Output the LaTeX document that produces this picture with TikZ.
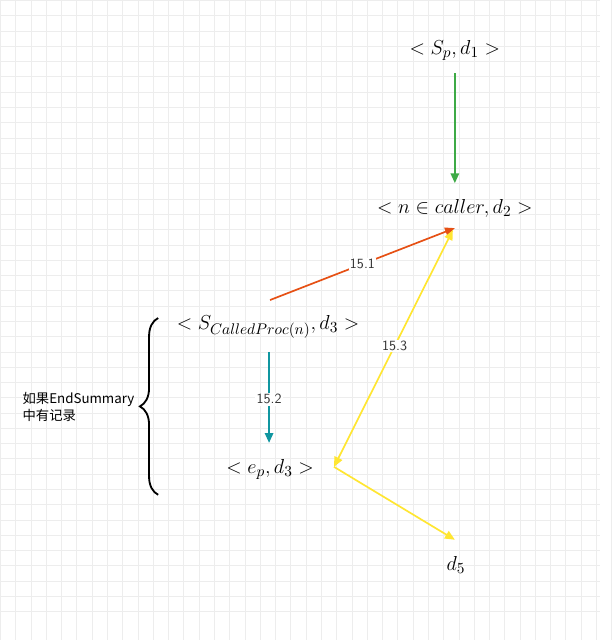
\documentclass[tikz,border=0pt]{standalone}
\usepackage{fontspec}
\newfontfamily\cjk{Noto Sans CJK SC}
\usetikzlibrary{arrows.meta,decorations.pathreplacing}
\begin{document}
\begin{tikzpicture}[x=0.025cm,y=-0.025cm,
  mt/.style={font=\fontsize{15}{17}\selectfont},
  lbl/.style={font=\sffamily\fontsize{10}{11}\selectfont,fill=white,text=black!80,inner sep=1pt},
  arr/.style={line width=1.2pt,-{Triangle[length=7pt,width=6pt]}}]
\fill[white] (0,0) rectangle (600,640);
\foreach \i in {0,...,40} {\draw[gray!14,line width=0.5pt] (\i*15.3,0) -- (\i*15.3,640);
  \draw[gray!14,line width=0.5pt] (0,\i*15.3) -- (600,\i*15.3);}
\useasboundingbox (0,0) rectangle (600,640);
\definecolor{gr}{RGB}{62,170,70}
\definecolor{og}{RGB}{230,80,20}
\definecolor{tl}{RGB}{16,150,160}
\definecolor{yl}{RGB}{255,230,50}
\node[mt] (sp) at (455,50) {$<S_p,d_1>$};
\node[mt] (n) at (455,208) {$<n\in caller,d_2>$};
\node[mt] (sc) at (268,327) {$<S_{CalledProc(n)},d_3>$};
\node[mt] (ep) at (270,470) {$<e_p,d_3>$};
\node[mt] (d5) at (456,565) {$d_5$};
\coordinate (g1) at (455,73); \coordinate (g2) at (455,183);
\coordinate (o1) at (270,300); \coordinate (o2) at (455,228);
\coordinate (t1) at (269,352); \coordinate (t2) at (269,443);
\coordinate (y1) at (334,467); \coordinate (y2) at (453,230);
\coordinate (y3) at (455,540);
\draw[arr,gr] (g1) -- (g2);
\draw[arr,og] (o1) -- node[lbl,pos=0.5] (l1) {15.1} (o2);
\draw[arr,tl] (t1) -- node[lbl,pos=0.52] (l2) {15.2} (t2);
\draw[line width=1.2pt,yl,{Triangle[length=7pt,width=6pt]}-{Triangle[length=7pt,width=6pt]}] (y1) -- node[lbl,pos=0.51] (l3) {15.3} (y2);
\draw[arr,yl] (y1) -- (y3);
\coordinate (b1) at (158,495); \coordinate (b2) at (158,318);
\draw[line width=1.3pt,decorate,decoration={brace,amplitude=13pt}] (b1) -- (b2);
\node[align=left,anchor=west,font=\cjk\fontsize{9.5}{12}\selectfont,inner sep=0] (txt) at (22,407) {如果EndSummary\\中有记录};
\end{tikzpicture}
\end{document}
